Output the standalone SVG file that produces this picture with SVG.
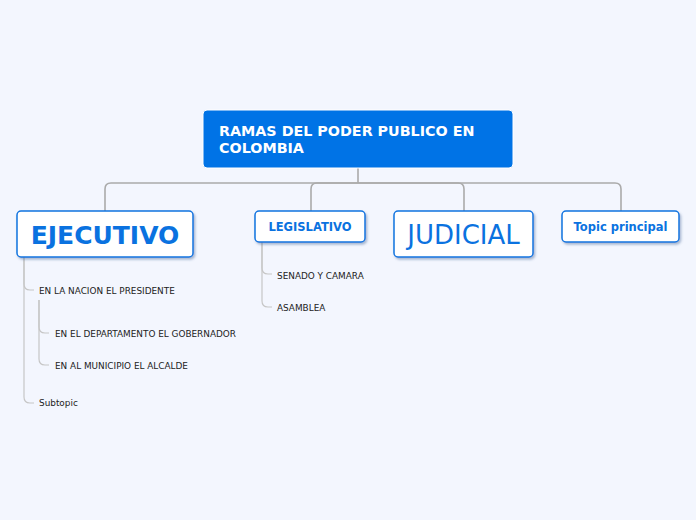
<svg xmlns="http://www.w3.org/2000/svg" width="696" height="520" viewBox="0 0 696 520">
<defs>
<filter id="sh" x="-10%" y="-20%" width="130%" height="160%">
<feDropShadow dx="1.5" dy="2" stdDeviation="1.2" flood-color="#4a6a9a" flood-opacity="0.45"/>
</filter>
</defs>
<style>
.bg{fill:#f3f6fe}
.root{fill:#0073e6;stroke:#ffffff;stroke-width:1}
.rt{font-family:"DejaVu Sans",Verdana,sans-serif;font-weight:bold;font-size:14.3px;fill:#ffffff}
.box{fill:#ffffff;stroke:#1274e0;stroke-width:1.5}
.bt{font-family:"DejaVu Sans",Verdana,sans-serif;font-weight:bold;fill:#0a72e0;text-anchor:middle}
.nt{font-family:"DejaVu Sans",Verdana,sans-serif;fill:#0a72e0;text-anchor:middle}
.st{font-family:"DejaVu Sans",Verdana,sans-serif;font-size:8.9px;fill:#222222}
.c1{fill:none;stroke:#aaaaaa;stroke-width:1.6}
.c2{fill:none;stroke:#c6c6c6;stroke-width:1.2}
</style>
<rect class="bg" x="0" y="0" width="696" height="520"/>
<g id="connectors">
<path class="c1" d="M358,168 V183"/>
<path class="c1" d="M358,183 H111 Q105,183 105,189 V211"/>
<path class="c1" d="M358,183 H317 Q311,183 311,189 V211"/>
<path class="c1" d="M358,183 H458 Q464,183 464,189 V211"/>
<path class="c1" d="M358,183 H615 Q621,183 621,189 V211"/>
<path class="c2" d="M24,257 V284 Q24,290 30,290 H34"/>
<path class="c2" d="M24,257 V397 Q24,403 30,403 H34"/>
<path class="c2" d="M39,300 V327 Q39,333 45,333 H49"/>
<path class="c2" d="M39,300 V359 Q39,365 45,365 H49"/>
<path class="c2" d="M262,242 V268 Q262,274 268,274 H272"/>
<path class="c2" d="M262,242 V301 Q262,307 268,307 H272"/>
</g>
<g id="root">
<rect class="root" x="203" y="110" width="310" height="58" rx="4"/>
<text class="rt" x="219" y="136">RAMAS DEL PODER PUBLICO EN</text>
<text class="rt" x="219" y="153">COLOMBIA</text>
</g>
<g id="ejecutivo">
<rect class="box" filter="url(#sh)" x="17" y="211" width="176" height="46" rx="4"/>
<text class="bt" x="105" y="244" font-size="25">EJECUTIVO</text>
</g>
<g id="legislativo">
<rect class="box" filter="url(#sh)" x="255" y="211" width="110" height="31" rx="4"/>
<text class="bt" x="310" y="231" font-size="11.5">LEGISLATIVO</text>
</g>
<g id="judicial">
<rect class="box" filter="url(#sh)" x="394" y="211" width="139" height="46" rx="4"/>
<text class="nt" x="463.5" y="244" font-size="26">JUDICIAL</text>
</g>
<g id="topic-principal">
<rect class="box" filter="url(#sh)" x="562" y="211" width="117" height="31" rx="4"/>
<text class="bt" x="620.5" y="231" font-size="11.5">Topic principal</text>
</g>
<g id="sub-presidente"><text class="st" x="39" y="294">EN LA NACION EL PRESIDENTE</text></g>
<g id="sub-gobernador"><text class="st" x="55" y="337">EN EL DEPARTAMENTO EL GOBERNADOR</text></g>
<g id="sub-alcalde"><text class="st" x="55" y="369">EN AL MUNICIPIO EL ALCALDE</text></g>
<g id="sub-subtopic"><text class="st" x="39" y="406">Subtopic</text></g>
<g id="sub-senado"><text class="st" x="277" y="279">SENADO Y CAMARA</text></g>
<g id="sub-asamblea"><text class="st" x="277" y="311">ASAMBLEA</text></g>
</svg>
